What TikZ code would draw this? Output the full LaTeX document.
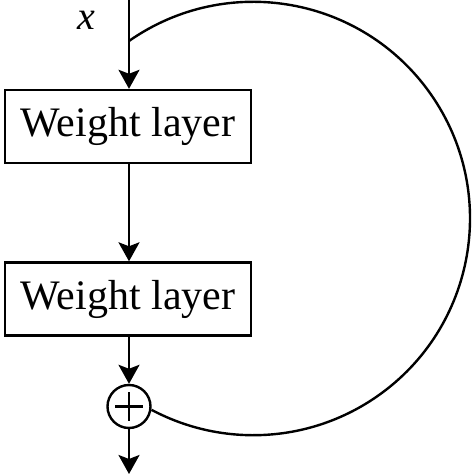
\documentclass[tikz,border=0pt]{standalone}
\usepackage{fontspec}
\setmainfont{Liberation Serif}
\usetikzlibrary{arrows.meta}
\begin{document}
\begin{tikzpicture}[x=1pt,y=1pt,line width=2.4pt,
  layerbox/.style={draw, minimum width=246pt, minimum height=73pt, inner sep=0pt, font=\fontsize{42}{42}\selectfont},
  flow/.style={-{Stealth[length=19pt,width=21pt,inset=4pt]}},
  sumnode/.style={draw, circle, minimum size=43pt, inner sep=0pt}]
\useasboundingbox (0,0) rectangle (474,474);
\coordinate (in) at (129,474);
\coordinate (split) at (129,433);
\node[layerbox] (w1) at (128,347.5) {Weight layer};
\node[layerbox] (w2) at (128,175) {Weight layer};
\node[sumnode] (sum) at (129,67.5) {};
\coordinate (out) at (129,0);
\node[anchor=base, inner sep=0pt, font=\fontsize{40}{40}\selectfont\itshape] (xlabel) at (86,444) {x};
\draw[flow] (in) -- (w1.north -| in);
\draw[flow] (w1.south -| in) -- (w2.north -| in);
\draw[flow] (w2.south -| in) -- (sum.north);
\draw[flow] (sum.south) -- (out);
\draw (sum.center) +(-14,0) -- +(14,0);
\draw (sum.center) +(0,-14.5) -- +(0,14.5);
\draw (split) arc[start angle=125, end angle=-118, radius=216.7];
\end{tikzpicture}
\end{document}
